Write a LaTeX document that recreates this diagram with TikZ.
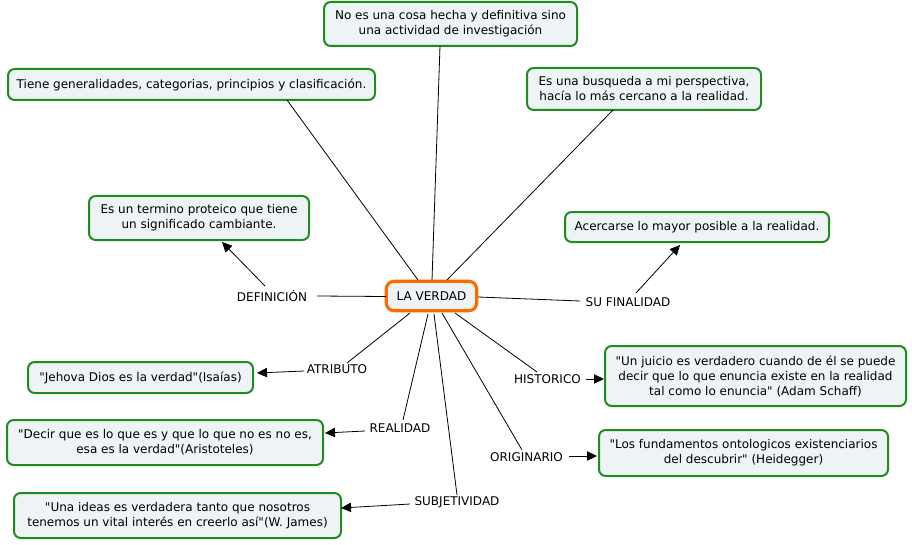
\documentclass[tikz,border=0pt]{standalone}
\usepackage{fontspec}
\setmainfont{DejaVu Sans}[Ligatures=TeXOff]
\usetikzlibrary{calc,arrows.meta}
\definecolor{boxfill}{HTML}{EEF3F5}
\definecolor{boxgreen}{HTML}{1E8C1E}
\definecolor{mainorange}{HTML}{FF6A00}
\tikzset{
  concept/.style={draw=boxgreen, line width=1.5pt, fill=boxfill, rounded corners=5pt,
    align=center, inner sep=0pt, font=\fontsize{9pt}{11.25pt}\selectfont},
  mainconcept/.style={draw=mainorange, line width=2.4pt, fill=boxfill, rounded corners=6pt,
    align=center, inner sep=0pt, font=\fontsize{9pt}{11.25pt}\selectfont},
  linkword/.style={inner sep=1pt, font=\fontsize{9pt}{11.25pt}\selectfont},
  conn/.style={draw=black, line width=0.6pt},
  arrowconn/.style={conn, -{Triangle[length=7.5pt,width=7pt]}}
}
\begin{document}
\begin{tikzpicture}[x=0.75pt,y=-0.75pt]
\useasboundingbox (0,0) rectangle (912,545);
% concepts
\node[mainconcept, minimum width=90.5*0.75pt, minimum height=29.5*0.75pt] (lv) at (431.5,296) {LA VERDAD};
\node[concept, minimum width=253*0.75pt, minimum height=44*0.75pt] (top) at (450.5,24) {No es una cosa hecha y definitiva sino\\una actividad de investigación};
\node[concept, minimum width=367*0.75pt, minimum height=31*0.75pt] (tiene) at (191.5,84.5) {Tiene generalidades, categorias, principios y clasificación.};
\node[concept, minimum width=234*0.75pt, minimum height=42*0.75pt] (busq) at (644,89) {Es una busqueda a mi perspectiva,\\hacía lo más cercano a la realidad.};
\node[concept, minimum width=220*0.75pt, minimum height=44*0.75pt] (prot) at (199,218) {Es un termino proteico que tiene\\un significado cambiante.};
\node[concept, minimum width=264*0.75pt, minimum height=30*0.75pt] (acerc) at (697,227) {Acercarse lo mayor posible a la realidad.};
\node[concept, minimum width=225*0.75pt, minimum height=31*0.75pt] (jehova) at (140.5,377.5) {"Jehova Dios es la verdad"(Isaías)};
\node[concept, minimum width=316*0.75pt, minimum height=45*0.75pt] (decir) at (165,442.5) {"Decir que es lo que es y que lo que no es no es,\\esa es la verdad"(Aristoteles)};
\node[concept, minimum width=327*0.75pt, minimum height=45*0.75pt] (ideas) at (177.5,515.5) {"Una ideas es verdadera tanto que nosotros\\tenemos un vital interés en creerlo así"(W. James)};
\node[concept, minimum width=301*0.75pt, minimum height=60*0.75pt] (juicio) at (755.5,376) {"Un juicio es verdadero cuando de él se puede\\decir que lo que enuncia existe en la realidad\\tal como lo enuncia" (Adam Schaff)};
\node[concept, minimum width=289*0.75pt, minimum height=46*0.75pt] (fund) at (743.5,453) {"Los fundamentos ontologicos existenciarios\\del descubrir" (Heidegger)};
% linking words
\node[linkword] (def) at (272,296) {DEFINICIÓN};
\node[linkword] (fin) at (628,302) {SU FINALIDAD};
\node[linkword] (atr) at (337,369) {ATRIBUTO};
\node[linkword] (real) at (400,428) {REALIDAD};
\node[linkword] (subj) at (457,502) {SUBJETIVIDAD};
\node[linkword] (hist) at (547.5,379) {HISTORICO};
\node[linkword] (orig) at (526.5,457) {ORIGINARIO};
% direct connectors
\draw[conn] ($(lv)+(0.5,-16)$) -- ($(top)+(-10.5,22)$);
\draw[conn] ($(lv)+(-13.5,-16)$) -- ($(tiene)+(95.5,15.5)$);
\draw[conn] ($(lv)+(15.5,-16)$) -- ($(busq)+(-31,21)$);
% linking connectors
\draw[conn] ($(lv)+(-45.5,0.5)$) -- ($(def)+(45,0)$);
\draw[arrowconn] ($(def)+(-7,-10)$) -- ($(prot)+(23,24)$);
\draw[conn] ($(lv)+(46.5,1)$) -- ($(fin)+(-48,-1)$);
\draw[arrowconn] ($(fin)+(8,-9)$) -- ($(acerc)+(-17,18)$);
\draw[conn] ($(lv)+(-21.5,17)$) -- ($(atr)+(10,-6)$);
\draw[arrowconn] ($(atr)+(-33,2)$) -- ($(jehova)+(116.5,-4.5)$);
\draw[conn] ($(lv)+(-3.5,18)$) -- ($(real)+(3,-8)$);
\draw[arrowconn] ($(real)+(-35,3)$) -- ($(decir)+(160,-9.5)$);
\draw[conn] ($(lv)+(2.5,18)$) -- ($(subj)+(0,-7)$);
\draw[arrowconn] ($(subj)+(-47,2)$) -- ($(ideas)+(163.5,-7.5)$);
\draw[conn] ($(lv)+(23.5,17)$) -- ($(hist)+(-10.5,-7)$);
\draw[arrowconn] ($(hist)+(38.5,0)$) -- ($(juicio)+(-151.5,3)$);
\draw[conn] ($(lv)+(10.5,17)$) -- ($(orig)+(-4.5,-7)$);
\draw[arrowconn] ($(orig)+(42.5,-1)$) -- ($(fund)+(-146.5,3)$);
\end{tikzpicture}
\end{document}
